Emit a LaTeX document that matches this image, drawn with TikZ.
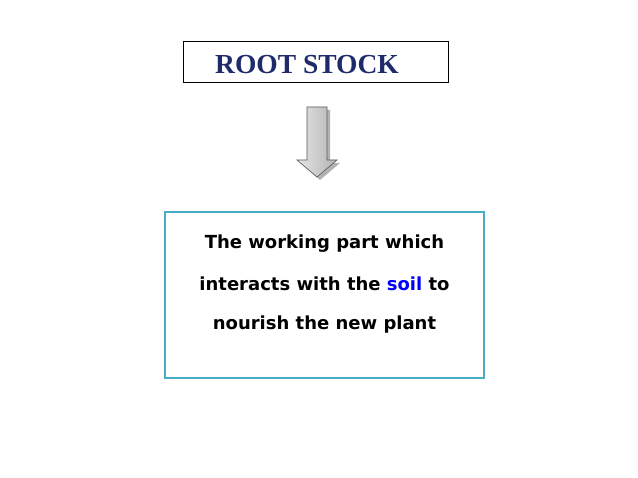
\documentclass[tikz,border=0pt]{standalone}
\usepackage{fontspec}
\setmainfont{Liberation Serif}
\newfontfamily\comic{DejaVu Sans}
\usetikzlibrary{shadings}
\definecolor{navy}{HTML}{1F2A6B}
\definecolor{teal}{HTML}{4BACC6}
\begin{document}
\begin{tikzpicture}[x=1pt,y=-1pt,
  topbox/.style={draw=black,line width=1pt,minimum width=265pt,minimum height=41pt,inner sep=0pt},
  bodybox/.style={draw=teal,line width=1.2pt,minimum width=319pt,minimum height=166pt,inner sep=0pt}]
\useasboundingbox (0,0) rectangle (638,478);
\node[topbox] (top) at (315.5,62.5) {};
\node[font=\bfseries\fontsize{27.5}{30}\selectfont,text=navy,anchor=west,inner sep=0pt] (title) at (215,65) {ROOT STOCK};
\coordinate (arr) at (317,107);
\fill[gray!60] ([shift={(3,3)}]arr) ++(-10,0) -- ++(20,0) -- ++(0,53) -- ++(10,0) -- ++(-20,17) -- ++(-20,-17) -- ++(10,0) -- cycle;
\shade[left color=gray!20,right color=gray!60,draw=gray!70!black,line width=0.6pt] (arr) ++(-10,0) -- ++(20,0) -- ++(0,53) -- ++(10,0) -- ++(-20,17) -- ++(-20,-17) -- ++(10,0) -- cycle;
\node[bodybox] (body) at (324.5,295) {};
\begin{scope}[every node/.style={font=\comic\bfseries\fontsize{18}{21}\selectfont}]
\node (l1) at (324.5,244) {The working part which};
\node (l2) at (324.5,284) {interacts with the \textcolor{blue}{soil} to};
\node (l3) at (324.5,325) {nourish the new plant};
\end{scope}
\end{tikzpicture}
\end{document}
